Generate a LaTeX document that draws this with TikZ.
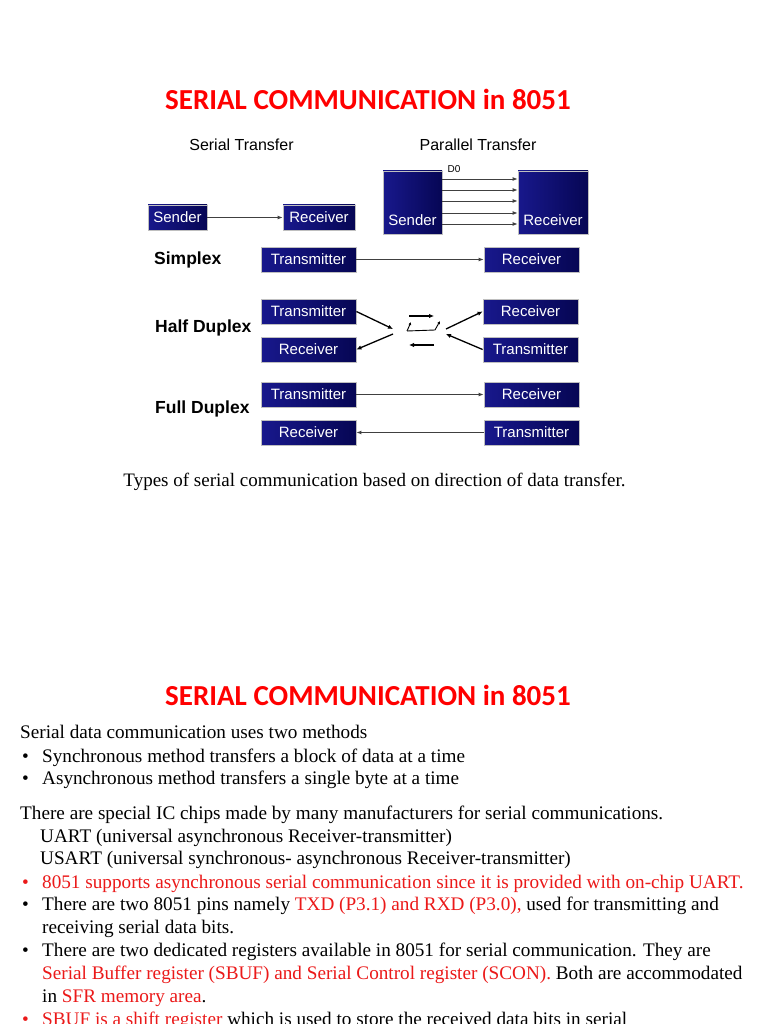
\documentclass[tikz,border=0pt]{standalone}
\usepackage{fontspec}
\setmainfont{Liberation Serif}
\newfontfamily\titlefont{Carlito}
\newfontfamily\diagfont{Liberation Sans}
\usetikzlibrary{arrows.meta}
\definecolor{navyL}{RGB}{24,24,140}
\definecolor{navyR}{RGB}{6,6,84}
\definecolor{txtred}{RGB}{235,25,25}
\newcommand{\rd}[1]{\textcolor{txtred}{#1}}
\newcommand{\bul}{\makebox[20pt][l]{\textbullet}}
\begin{document}
\begin{tikzpicture}[x=1pt,y=-1pt,
 box/.style={draw=black!25, line width=0.8pt, left color=navyL, right color=navyR, text=white,
   font=\diagfont\fontsize{15}{17}\selectfont, inner sep=0pt},
 conn/.style={draw=black!75, line width=0.9pt, -{Latex[length=5pt,width=4pt]}},
 hd/.style={draw=black, line width=1.3pt, -{Latex[length=5pt,width=4.5pt]}},
 sw/.style={draw=black, line width=0.9pt, -{Latex[length=3pt,width=3pt]}},
 lbl/.style={font=\diagfont\bfseries\fontsize{17.5}{20}\selectfont, anchor=west, inner sep=0pt},
 head/.style={font=\diagfont\fontsize{16}{19}\selectfont, inner sep=0pt},
 ttl/.style={font=\titlefont\bfseries\fontsize{29}{32}\selectfont, text=red, anchor=base, inner sep=0pt},
 body/.style={font=\fontsize{19.2}{23}\selectfont, anchor=base west, inner sep=0pt},
]
\useasboundingbox (0,0) rectangle (768,1024);
\fill[white] (0,0) rectangle (768,1024);

% ---------- Title 1
\node[ttl] (title1) at (368,110) {SERIAL COMMUNICATION in 8051};

% ---------- Serial / parallel transfer
\node[head] (hs) at (241.5,145) {Serial Transfer};
\node[head] (hp) at (478,145) {Parallel Transfer};

\node[box, minimum width=59, minimum height=25] (ss) at (177.5,217.5) {Sender};
\node[box, minimum width=72, minimum height=25] (sr) at (319,217.5) {Receiver};
\draw[conn] (ss.east) -- (sr.west);

\node[box, minimum width=59, minimum height=63,
  label={[white, font=\diagfont\fontsize{15}{17}\selectfont, anchor=south, yshift=5pt]south:Sender}] (ps) at (412.5,202.5) {};
\node[box, minimum width=70, minimum height=63,
  label={[white, font=\diagfont\fontsize{15}{17}\selectfont, anchor=south, yshift=5pt]south:Receiver}] (pr) at (553,202.5) {};
\foreach \s in {23.5,12.5,1.5,-10.5,-21.5}
  \draw[conn] ([yshift=\s pt]ps.east) -- ([yshift=\s pt]ps.east -| pr.west);
\node[font=\diagfont\fontsize{10}{12}\selectfont, inner sep=0pt] (d0) at (454,169) {D0};

% ---------- Simplex
\node[lbl] (lsim) at (154,260) {Simplex};
\node[box, minimum width=95, minimum height=25] (simT) at (308.5,259.5) {Transmitter};
\node[box, minimum width=95, minimum height=25] (simR) at (531.5,259.5) {Receiver};
\draw[conn] (simT.east) -- (simR.west);

% ---------- Half duplex
\node[lbl] (lhd) at (155,328) {Half Duplex};
\node[box, minimum width=95, minimum height=25] (hdT) at (308.5,311.5) {Transmitter};
\node[box, minimum width=95, minimum height=25] (hdR) at (308.5,349.5) {Receiver};
\node[box, minimum width=95, minimum height=25] (hdR2) at (530.5,311.5) {Receiver};
\node[box, minimum width=95, minimum height=25] (hdT2) at (530.5,349.5) {Transmitter};
\coordinate (swLa) at (393,329);
\coordinate (swLb) at (393,334);
\coordinate (swRa) at (446,329);
\coordinate (swRb) at (446,334);
\draw[hd] (hdT.east) -- (swLa);
\draw[hd] (swLb) -- (hdR.east);
\draw[hd] (swRa) -- (hdR2.west);
\draw[hd] (hdT2.west) -- (swRb);
% switch symbol
\coordinate (t1) at (409,316);
\coordinate (t2) at (434,316);
\draw[hd] (t1) -- (t2);
\coordinate (b1) at (434,345);
\coordinate (b2) at (409,345);
\draw[hd] (b1) -- (b2);
\coordinate (k1) at (407,331);
\coordinate (k2) at (435,330);
\draw[sw] (k1) -- (411,322);
\draw[black, line width=0.9pt] (k1) -- (k2);
\draw[sw] (k2) -- (440,321);

% ---------- Full duplex
\node[lbl] (lfd) at (155,409) {Full Duplex};
\node[box, minimum width=95, minimum height=25] (fdT) at (308.5,394.5) {Transmitter};
\node[box, minimum width=95, minimum height=25] (fdR) at (308.5,432.5) {Receiver};
\node[box, minimum width=95, minimum height=25] (fdR2) at (531.5,394.5) {Receiver};
\node[box, minimum width=95, minimum height=25] (fdT2) at (531.5,432.5) {Transmitter};
\draw[conn] (fdT.east) -- (fdR2.west);
\draw[conn] (fdT2.west) -- (fdR.east);

% ---------- Caption
\node[font=\fontsize{19}{22}\selectfont, anchor=base, inner sep=0pt] (cap) at (374.5,486)
  {Types of serial communication based on direction of data transfer.};

% ---------- Title 2
\node[ttl] (title2) at (368,705) {SERIAL COMMUNICATION in 8051};

% ---------- Body text
\node[body] (l1) at (20,738) {Serial data communication uses two methods};
\node[body] (l2) at (22,762) {\bul Synchronous method transfers a block of data at a time};
\node[body] (l3) at (22,784) {\bul Asynchronous method transfers a single byte at a time};
\node[body] (l4) at (20,819) {There are special IC chips made by many manufacturers for serial communications.};
\node[body] (l5) at (40,842) {UART (universal asynchronous Receiver-transmitter)};
\node[body] (l6) at (40,864) {USART (universal synchronous- asynchronous Receiver-transmitter)};
\node[body, text=txtred] (l7) at (22,888) {\bul 8051 supports asynchronous serial communication since it is provided with on-chip UART.};
\node[body] (l8) at (22,910) {\bul There are two 8051 pins namely \rd{TXD (P3.1) and RXD (P3.0),} used for transmitting and};
\node[body] (l9) at (42,933) {receiving serial data bits.};
\node[body] (l10) at (22,956) {\bul There are two dedicated registers available in 8051 for serial communication. They are};
\node[body] (l11) at (42,979) {\rd{Serial Buffer register (SBUF) and Serial Control register (SCON).} Both are accommodated};
\node[body] (l12) at (42,1002) {in \rd{SFR memory area}.};
\node[body] (l13) at (22,1025) {\rd{\bul SBUF is a shift register} which is used to store the received data bits in serial};
\end{tikzpicture}
\end{document}
